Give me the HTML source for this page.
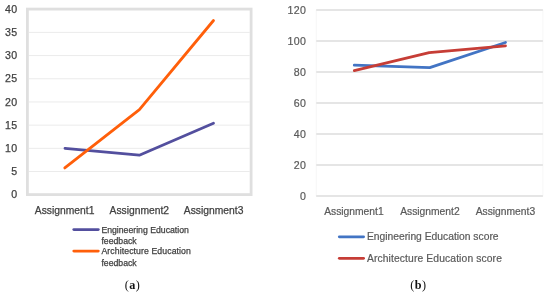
<!DOCTYPE html><html><head><meta charset="utf-8"><style>html,body{margin:0;padding:0;background:#fff;width:550px;height:295px;overflow:hidden}svg{display:block}text{font-family:"Liberation Sans",Arial,sans-serif;paint-order:stroke}</style></head><body>
<svg width="550" height="295" viewBox="0 0 550 295">
<rect width="550" height="295" fill="#fff"/>
<line x1="28.8" x2="249.7" y1="171.51" y2="171.51" stroke="#ebebeb" stroke-width="1"/>
<line x1="28.8" x2="249.7" y1="148.32" y2="148.32" stroke="#ebebeb" stroke-width="1"/>
<line x1="28.8" x2="249.7" y1="125.14" y2="125.14" stroke="#ebebeb" stroke-width="1"/>
<line x1="28.8" x2="249.7" y1="101.95" y2="101.95" stroke="#ebebeb" stroke-width="1"/>
<line x1="28.8" x2="249.7" y1="78.76" y2="78.76" stroke="#ebebeb" stroke-width="1"/>
<line x1="28.8" x2="249.7" y1="55.57" y2="55.57" stroke="#ebebeb" stroke-width="1"/>
<line x1="28.8" x2="249.7" y1="32.39" y2="32.39" stroke="#ebebeb" stroke-width="1"/>
<rect x="27.4" y="9.1" width="223.7" height="185.5" fill="none" stroke="#dfdfdf" stroke-width="2.8"/>
<g font-size="10.6" fill="#404040" stroke="#404040" stroke-width="0.25" text-anchor="end" letter-spacing="0.35">
<text x="17.5" y="198.40">0</text>
<text x="17.5" y="175.21">5</text>
<text x="17.5" y="152.02">10</text>
<text x="17.5" y="128.84">15</text>
<text x="17.5" y="105.65">20</text>
<text x="17.5" y="82.46">25</text>
<text x="17.5" y="59.27">30</text>
<text x="17.5" y="36.09">35</text>
<text x="17.5" y="12.90">40</text>
</g>
<g font-size="10.3" fill="#404040" stroke="#404040" stroke-width="0.25" text-anchor="middle">
<text x="64.6" y="213.5">Assignment1</text>
<text x="139.3" y="213.5">Assignment2</text>
<text x="213.6" y="213.5">Assignment3</text>
</g>
<polyline points="65,148.4 139.3,155.2 213.5,123.2" fill="none" stroke="#534f9e" stroke-width="2.8" stroke-linecap="round" stroke-linejoin="round"/>
<polyline points="64.8,167.9 139.4,109.7 213.5,20.5" fill="none" stroke="#ff5f0a" stroke-width="2.8" stroke-linecap="round" stroke-linejoin="round"/>
<line x1="73.8" x2="98.3" y1="229.6" y2="229.6" stroke="#534f9e" stroke-width="2.8" stroke-linecap="round"/>
<line x1="73.8" x2="98.3" y1="251.1" y2="251.1" stroke="#ff5f0a" stroke-width="2.8" stroke-linecap="round"/>
<g font-size="8.7" fill="#404040" stroke="#404040" stroke-width="0.25">
<text x="101.4" y="233">Engineering Education</text>
<text x="101.4" y="243.9">feedback</text>
<text x="101.4" y="254.4" textLength="89.5" lengthAdjust="spacing">Architecture Education</text>
<text x="101.4" y="266">feedback</text>
</g>
<text x="132.5" y="289" font-size="12.2" fill="#111" text-anchor="middle" letter-spacing="0.4" style="font-family:'Liberation Serif',serif">(<tspan font-weight="bold">a</tspan>)</text>
<rect x="316.2" y="10" width="226.7" height="186" fill="none" stroke="#f4f4f4" stroke-width="0.8"/>
<line x1="316.2" x2="542.9" y1="196.00" y2="196.00" stroke="#e5e5e5" stroke-width="2"/>
<line x1="316.2" x2="542.9" y1="165.00" y2="165.00" stroke="#e5e5e5" stroke-width="2"/>
<line x1="316.2" x2="542.9" y1="134.00" y2="134.00" stroke="#e5e5e5" stroke-width="2"/>
<line x1="316.2" x2="542.9" y1="103.00" y2="103.00" stroke="#e5e5e5" stroke-width="2"/>
<line x1="316.2" x2="542.9" y1="72.00" y2="72.00" stroke="#e5e5e5" stroke-width="2"/>
<line x1="316.2" x2="542.9" y1="41.00" y2="41.00" stroke="#e5e5e5" stroke-width="2"/>
<line x1="316.2" x2="542.9" y1="10.00" y2="10.00" stroke="#e5e5e5" stroke-width="2"/>
<g font-size="10.6" fill="#595959" stroke="#595959" stroke-width="0.2" text-anchor="end" letter-spacing="0.35">
<text x="306.2" y="199.80">0</text>
<text x="306.2" y="168.80">20</text>
<text x="306.2" y="137.80">40</text>
<text x="306.2" y="106.80">60</text>
<text x="306.2" y="75.80">80</text>
<text x="306.2" y="44.80">100</text>
<text x="306.2" y="13.80">120</text>
</g>
<g font-size="10.3" fill="#595959" stroke="#595959" stroke-width="0.2" text-anchor="middle">
<text x="353.9" y="214.8">Assignment1</text>
<text x="429.9" y="214.8">Assignment2</text>
<text x="505.4" y="214.8">Assignment3</text>
</g>
<polyline points="354.3,65.2 429.75,67.6 505.5,42.5" fill="none" stroke="#4274c4" stroke-width="2.8" stroke-linecap="round" stroke-linejoin="round"/>
<polyline points="354.3,70.7 429.2,52.6 505.5,45.8" fill="none" stroke="#c63d36" stroke-width="2.8" stroke-linecap="round" stroke-linejoin="round"/>
<line x1="339.3" x2="363.6" y1="236.8" y2="236.8" stroke="#4274c4" stroke-width="2.8" stroke-linecap="round"/>
<line x1="339.3" x2="363.6" y1="258.3" y2="258.3" stroke="#c63d36" stroke-width="2.8" stroke-linecap="round"/>
<g font-size="10.3" fill="#595959" stroke="#595959" stroke-width="0.2">
<text x="366.9" y="239.7">Engineering Education score</text>
<text x="366.9" y="261.9" textLength="135" lengthAdjust="spacing">Architecture Education score</text>
</g>
<text x="418.4" y="289" font-size="12.2" fill="#111" text-anchor="middle" letter-spacing="0.4" style="font-family:'Liberation Serif',serif">(<tspan font-weight="bold">b</tspan>)</text>
</svg></body></html>
